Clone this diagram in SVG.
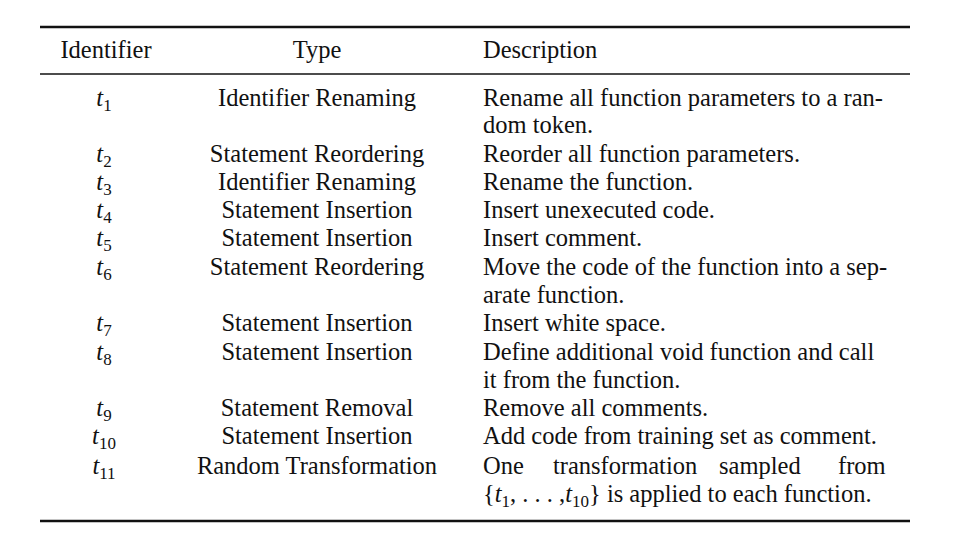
<svg xmlns="http://www.w3.org/2000/svg" width="969" height="535" viewBox="0 0 969 535">
<style>
text{font-family:"Liberation Serif",serif;font-size:24.5px;fill:#111}
.c{text-anchor:middle}
.i{font-style:italic}
.s{font-size:17px;font-style:normal}
line{stroke:#111}
</style>
<rect width="969" height="535" fill="#fff"/>
<g id="rules">
<line x1="40" y1="27" x2="910" y2="27" stroke-width="2.5"/>
<line x1="40" y1="74" x2="910" y2="74" stroke-width="1.5"/>
<line x1="40" y1="521" x2="910" y2="521" stroke-width="2.5"/>
</g>
<g id="header">
<text x="106" y="58" class="c">Identifier</text>
<text x="317" y="58" class="c">Type</text>
<text x="483" y="58">Description</text>
</g>
<g id="ids">
<text x="104" y="106" class="c i">t<tspan class="s" dy="5">1</tspan></text>
<text x="104" y="162" class="c i">t<tspan class="s" dy="5">2</tspan></text>
<text x="104" y="190" class="c i">t<tspan class="s" dy="5">3</tspan></text>
<text x="104" y="218" class="c i">t<tspan class="s" dy="5">4</tspan></text>
<text x="104" y="246" class="c i">t<tspan class="s" dy="5">5</tspan></text>
<text x="104" y="275" class="c i">t<tspan class="s" dy="5">6</tspan></text>
<text x="104" y="331" class="c i">t<tspan class="s" dy="5">7</tspan></text>
<text x="104" y="360" class="c i">t<tspan class="s" dy="5">8</tspan></text>
<text x="104" y="416" class="c i">t<tspan class="s" dy="5">9</tspan></text>
<text x="104" y="444" class="c i">t<tspan class="s" dy="5">10</tspan></text>
<text x="104" y="474" class="c i">t<tspan class="s" dy="5">11</tspan></text>
</g>
<g id="types">
<text x="317" y="106" class="c">Identifier Renaming</text>
<text x="317" y="162" class="c">Statement Reordering</text>
<text x="317" y="190" class="c">Identifier Renaming</text>
<text x="317" y="218" class="c">Statement Insertion</text>
<text x="317" y="246" class="c">Statement Insertion</text>
<text x="317" y="275" class="c">Statement Reordering</text>
<text x="317" y="331" class="c">Statement Insertion</text>
<text x="317" y="360" class="c">Statement Insertion</text>
<text x="317" y="416" class="c">Statement Removal</text>
<text x="317" y="444" class="c">Statement Insertion</text>
<text x="317" y="474" class="c">Random Transformation</text>
</g>
<g id="descriptions">
<text x="483" y="106">Rename all function parameters to a ran-</text>
<text x="483" y="133">dom token.</text>
<text x="483" y="162">Reorder all function parameters.</text>
<text x="483" y="190">Rename the function.</text>
<text x="483" y="218">Insert unexecuted code.</text>
<text x="483" y="246">Insert comment.</text>
<text x="483" y="275">Move the code of the function into a sep-</text>
<text x="483" y="303">arate function.</text>
<text x="483" y="331">Insert white space.</text>
<text x="483" y="360">Define additional void function and call</text>
<text x="483" y="388">it from the function.</text>
<text x="483" y="416">Remove all comments.</text>
<text x="483" y="444">Add code from training set as comment.</text>
<text x="483" y="474"><tspan x="483">One</tspan><tspan x="553">transformation</tspan><tspan x="719">sampled</tspan><tspan x="838">from</tspan></text>
<text x="483" y="502">{<tspan class="i">t</tspan><tspan class="s" dy="5">1</tspan><tspan dy="-5">, . . . ,</tspan><tspan class="i">t</tspan><tspan class="s" dy="5">10</tspan><tspan dy="-5">} is applied to each function.</tspan></text>
</g>
</svg>
